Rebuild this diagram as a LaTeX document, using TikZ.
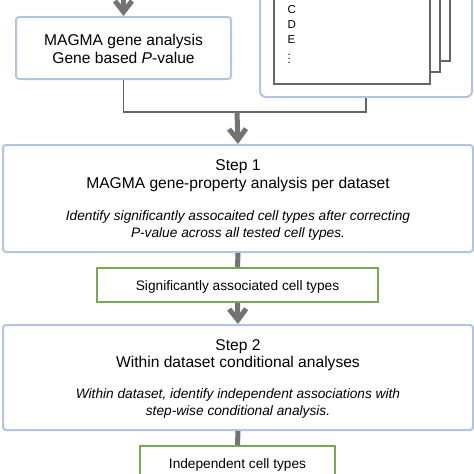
\documentclass[tikz,border=0pt]{standalone}
\usepackage{fontspec}
\setmainfont{Liberation Sans}
\usetikzlibrary{arrows.meta,calc}
\definecolor{boxblue}{HTML}{B3C3E3}
\definecolor{boxgreen}{HTML}{78AB4F}
\definecolor{arrowgrey}{HTML}{737373}
\definecolor{linegrey}{HTML}{666666}
\begin{document}
\begin{tikzpicture}[x=1pt,y=-1pt,
  bluebox/.style={draw=boxblue,line width=2pt,rounded corners=3pt,fill=white,inner sep=0pt},
  greenbox/.style={draw=boxgreen,line width=2pt,fill=white,inner sep=0pt},
  paper/.style={draw=linegrey,line width=1.2pt,fill=white},
  hdr/.style={font=\fontsize{15.6}{18}\selectfont,inner sep=0pt,anchor=base},
  subtxt/.style={font=\fontsize{13.7}{17}\selectfont\itshape,inner sep=0pt,anchor=base},
  restxt/.style={font=\fontsize{13.7}{17}\selectfont,inner sep=0pt,anchor=base},
  lettertxt/.style={font=\fontsize{11.5}{13}\selectfont,inner sep=0pt,anchor=base west},
  conn/.style={draw=linegrey,line width=1.5pt},
  arr/.style={draw=arrowgrey,line width=5pt,-{Straight Barb[length=11pt,width=17pt,line width=5pt,line cap=butt]}},
  thickline/.style={draw=arrowgrey,line width=5pt}]
\useasboundingbox (0,0) rectangle (474,474);
% top-right dataset stack
\node[bluebox,rounded corners=6pt,minimum width=212,minimum height=117] (outer) at (366,38.5) {};
\draw[paper] (294,-20) rectangle (450,61);
\draw[paper] (284,-20) rectangle (440,72);
\draw[paper] (274,-20) rectangle (430,84);
\node[lettertxt] (lc) at (287.5,13.5) {C};
\node[lettertxt] (ld) at (287.5,28.5) {D};
\node[lettertxt] (le) at (287.5,43.5) {E};
\node[lettertxt,anchor=north west] (ldots) at (287.3,48.5) {$\vdots$};
% gene analysis
\node[bluebox,minimum width=215,minimum height=62] (gene) at (123.5,48) {};
\node[hdr] (g1) at (123.5,45) {MAGMA gene analysis};
\node[hdr] (g2) at (123.5,63) {Gene based \textit{P}-value};
% step 1
\node[bluebox,minimum width=470,minimum height=107] (s1) at (238,198.5) {};
\node[hdr] (s1a) at (238,170) {Step 1};
\node[hdr] (s1b) at (238,188) {MAGMA gene-property analysis per dataset};
\node[subtxt] (s1c) at (238,220) {Identify significantly assocaited cell types after correcting};
\node[subtxt] (s1d) at (238,237) {P-value across all tested cell types.};
% significant
\node[greenbox,minimum width=281,minimum height=34] (sig) at (237.5,285) {};
\node[restxt] (sigt) at (237.5,290) {Significantly associated cell types};
% step 2
\node[bluebox,minimum width=470,minimum height=105] (s2) at (238,377.5) {};
\node[hdr] (s2a) at (238,350) {Step 2};
\node[hdr] (s2b) at (238,367) {Within dataset conditional analyses};
\node[subtxt] (s2c) at (238,398) {Within dataset, identify independent associations with};
\node[subtxt] (s2d) at (238,415) {step-wise conditional analysis.};
% independent
\node[greenbox,minimum width=195,minimum height=34] (ind) at (237.5,463) {};
\node[restxt] (indt) at (237.5,468) {Independent cell types};
% connectors
\coordinate (topin) at (123.5,-12);
\coordinate (j) at (237,112);
\draw[arr] (topin) -- (gene.north);
\draw[conn] (gene.south) |- (j) -| (outer.south);
\draw[arr] (j) -- (s1.north);
\draw[thickline] (s1.south) -- (sig.north);
\draw[arr] (sig.south) -- (s2.north);
\draw[thickline] (s2.south) -- (ind.north);
\end{tikzpicture}
\end{document}
